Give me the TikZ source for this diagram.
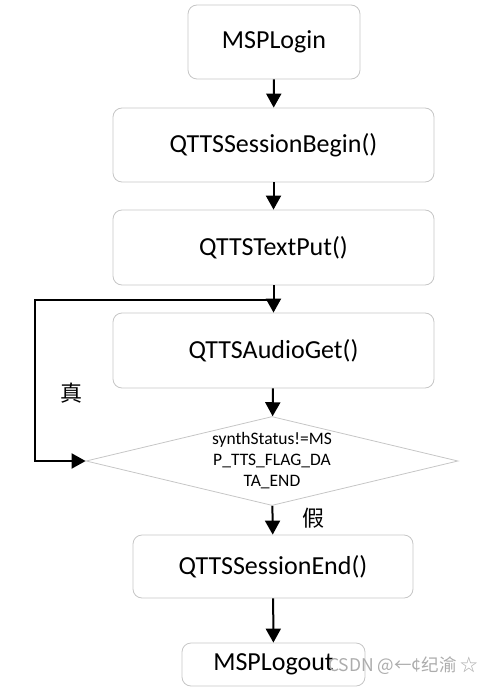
\documentclass[tikz,border=0pt]{standalone}
\usepackage{fontspec}
\setmainfont{Carlito}
\newfontfamily\cjk{Noto Sans CJK SC}
\usetikzlibrary{arrows.meta,shapes.geometric}
\begin{document}
\begin{tikzpicture}[x=1pt,y=-1pt,
    every node/.style={inner sep=0pt},
    stepbox/.style={draw=gray!45,line width=0.8pt,rounded corners=9pt,
        font=\fontsize{26}{30}\selectfont},
    decide/.style={draw=gray!45,line width=0.8pt,diamond,aspect=4.18},
    arr/.style={line width=2pt,-{Triangle[length=14pt,width=15pt]}},
    tag/.style={font=\cjk\fontsize{22}{26}\selectfont}]
    \useasboundingbox (0,0) rectangle (499,687);
    \node[stepbox,minimum width=172pt,minimum height=74pt] (login) at (274,42) {MSPLogin};
    \node[stepbox,minimum width=321pt,minimum height=74pt] (begin) at (273.5,145) {QTTSSessionBegin()};
    \node[stepbox,minimum width=321pt,minimum height=75pt] (put) at (273.5,247.5) {QTTSTextPut()};
    \node[stepbox,minimum width=321pt,minimum height=75pt] (get) at (273.5,350.5) {QTTSAudioGet()};
    \node[decide,minimum width=372pt,minimum height=89pt] (dia) at (272,461) {};
    \node[font=\fontsize{17.5}{21}\selectfont,align=center] (cond) at (dia)
        {synthStatus!=MS\\P\_TTS\_FLAG\_DA\\TA\_END};
    \node[stepbox,minimum width=280pt,minimum height=63pt] (end) at (273,566.5) {QTTSSessionEnd()};
    \node[stepbox,minimum width=183pt,minimum height=43pt] (logout) at (273.5,664.5) {MSPLogout};
    % arrows
    \draw[arr] (login) -- (begin);
    \draw[arr] (begin) -- (put);
    \draw[arr] (put) -- (get);
    \draw[arr] (get) -- (dia);
    \draw[arr] (dia) -- (end);
    \draw[arr] (end) -- (logout);
    % loop back
    \coordinate (j) at (274,300);
    \coordinate (corner) at (35,300);
    \draw[arr] (j) -- (corner) |- (dia.west);
    \node[tag] (yes) at (71,393) {真};
    \node[tag] (no) at (313,518) {假};
    \node[font=\cjk\fontsize{17.5}{20}\selectfont,text=gray!65] (mark) at (403,666) {CSDN @←¢纪渝 ☆};
\end{tikzpicture}
\end{document}
